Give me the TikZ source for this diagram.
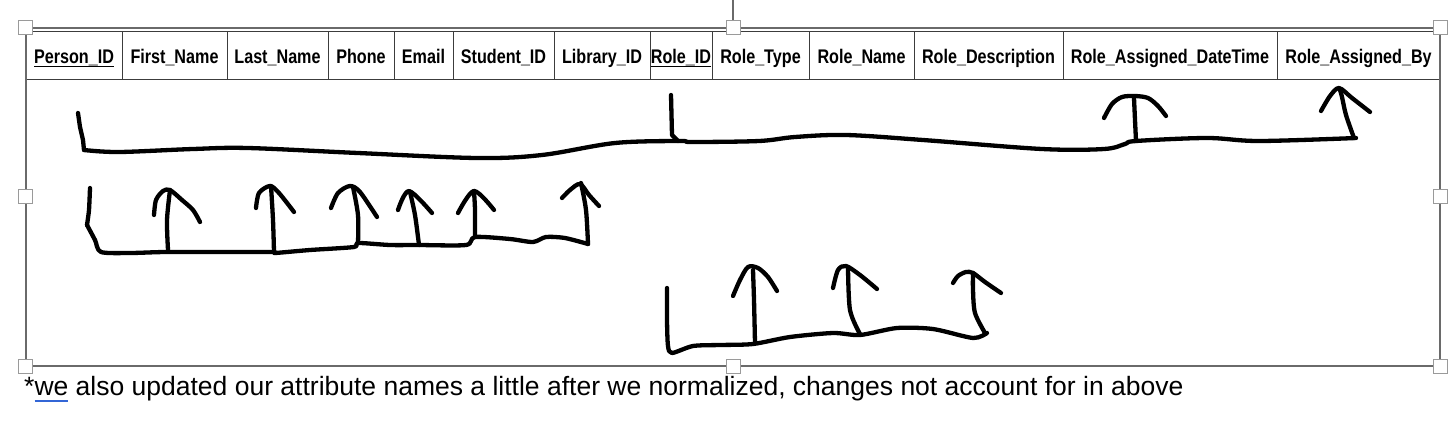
\documentclass[tikz,border=0pt]{standalone}
\usepackage{fontspec}
\setmainfont{Liberation Sans}
\newfontfamily\hdrfont{Liberation Sans}[FakeStretch=0.82]
\definecolor{framegray}{HTML}{6A6A6A}
\definecolor{handlegray}{HTML}{9A9A9A}
\definecolor{tablegray}{HTML}{3C3C3C}
\definecolor{spellblue}{HTML}{3366D6}
\newcommand\ulpk[1]{\setbox0\hbox{#1}\rlap{\rule[-3.6pt]{\wd0}{1.6pt}}\box0\relax}
\newcommand\ulbl[1]{\setbox0\hbox{#1}\rlap{\textcolor{spellblue}{\rule[-6.5pt]{\wd0}{2pt}}}\box0\relax}
\newcommand\hcellnode[4]{\node[hcell, minimum width={(#2-#1)*1pt}] (#4) at ({(#1+#2)/2},55) {#3};}
\begin{document}
\begin{tikzpicture}[x=1pt,y=-1pt,
  hcell/.style={draw=tablegray, line width=0.9pt, minimum height=48pt, inner sep=0pt,
    text height=17pt, text depth=0pt, font={\hdrfont\bfseries\fontsize{19.7pt}{20pt}\selectfont}},
  handle/.style={draw=handlegray, fill=white, line width=0.8pt, minimum size=14pt, inner sep=0pt},
  ink/.style={line width=4.3pt, line cap=round, line join=round, black},
  framestyle/.style={draw=framegray, line width=1.3pt}]
\useasboundingbox (0,0) rectangle (1448,426);
\fill[white] (0,0) rectangle (1448,426);
% header row
\hcellnode{26}{122}{\ulpk{Person\_ID}}{c1}
\hcellnode{122}{227}{First\_Name}{c2}
\hcellnode{227}{328}{Last\_Name}{c3}
\hcellnode{328}{394}{Phone}{c4}
\hcellnode{394}{453}{Email}{c5}
\hcellnode{453}{554}{Student\_ID}{c6}
\hcellnode{554}{650}{Library\_ID}{c7}
\hcellnode{650}{712}{\ulpk{Role\_ID}}{c8}
\hcellnode{712}{809}{Role\_Type}{c9}
\hcellnode{809}{914}{Role\_Name}{c10}
\hcellnode{914}{1063}{Role\_Description}{c11}
\hcellnode{1063}{1277}{Role\_Assigned\_DateTime}{c12}
\hcellnode{1277}{1440}{Role\_Assigned\_By}{c13}
% frame
\draw[framestyle] (26,28) rectangle (1440,366);
% top dependency line
\draw[ink] (78,113) -- (80,127) -- (83,140) -- (84,150);
\draw[ink] plot[smooth, tension=0.55] coordinates {(84,150) (119,152) (193,149) (248,148) (358,153) (477,158) (542,155) (615,143) (680,141) (692,142) (759,141) (795,137) (846,135) (923,140) (1042,149) (1104,149) (1125,144) (1136,141) (1207,138) (1259,141) (1356,138)};
\draw[ink] (671,95) -- (672,135) -- (678,141);
% top arrows
\draw[ink] plot[smooth] coordinates {(1136,141) (1135,120) (1134,98)};
\draw[ink] plot[smooth] coordinates {(1104,118) (1112,104) (1122,97) (1135,96) (1148,98) (1158,106) (1166,116)};
\draw[ink] plot[smooth] coordinates {(1354,138) (1346,115) (1342,97) (1340,90)};
\draw[ink] plot[smooth] coordinates {(1321,111) (1330,96) (1339,88) (1352,98) (1370,112)};
% middle group
\draw[ink] plot[smooth, tension=0.4] coordinates {(90,188) (89,210) (87,225)};
\draw[ink] plot[smooth, tension=0.45] coordinates {(87,225) (95,240) (101,252) (130,253) (165,252) (220,252) (273,252) (275,253) (310,250) (354,247) (358,243) (390,245) (418,245) (466,245) (475,237) (510,239) (533,242) (546,237) (565,238) (588,244)};
\draw[ink] plot[smooth] coordinates {(168,250) (167,220) (170,190)};
\draw[ink] plot[smooth] coordinates {(154,215) (156,200) (163,191) (170,190) (182,200) (193,210) (200,222)};
\draw[ink] plot[smooth] coordinates {(274,252) (273,220) (271,186)};
\draw[ink] plot[smooth] coordinates {(256,208) (259,193) (270,186) (279,193) (294,212)};
\draw[ink] plot[smooth] coordinates {(358,243) (358,215) (353,187)};
\draw[ink] plot[smooth] coordinates {(331,208) (338,193) (350,186) (360,192) (377,217)};
\draw[ink] plot[smooth] coordinates {(419,245) (415,215) (410,192)};
\draw[ink] plot[smooth] coordinates {(398,210) (409,191) (432,213)};
\draw[ink] plot[smooth] coordinates {(475,237) (475,210) (474,191)};
\draw[ink] plot[smooth] coordinates {(458,213) (474,191) (494,210)};
\draw[ink] plot[smooth] coordinates {(588,244) (586,210) (581,183)};
\draw[ink] plot[smooth] coordinates {(562,198) (570,190) (580,184) (589,195) (599,206)};
% bottom group
\draw[ink] plot[smooth, tension=0.45] coordinates {(667,288) (667,320) (668,346) (672,353) (693,346) (720,345) (753,344) (790,337) (833,333) (860,335) (897,328) (933,329) (973,338) (987,333)};
\draw[ink] plot[smooth] coordinates {(755,343) (754,300) (753,270)};
\draw[ink] plot[smooth] coordinates {(733,296) (740,280) (748,267) (758,268) (768,277) (777,291)};
\draw[ink] plot[smooth] coordinates {(860,334) (850,310) (848,267)};
\draw[ink] plot[smooth] coordinates {(833,288) (838,270) (846,266) (860,275) (877,289)};
\draw[ink] plot[smooth] coordinates {(985,333) (975,313) (973,290) (973,273)};
\draw[ink] plot[smooth] coordinates {(953,283) (958,276) (966,272) (973,273) (985,282) (1001,293)};
% handles
\node[handle] (h1) at (25,27) {};
\node[handle] (h2) at (733,27) {};
\node[handle] (h3) at (1440,27) {};
\node[handle] (h4) at (25,196) {};
\node[handle] (h5) at (1440,196) {};
\node[handle] (h6) at (25,366) {};
\node[handle] (h7) at (733,366) {};
\node[handle] (h8) at (1440,366) {};
\coordinate (rot) at (733,0);
\draw[framestyle] (rot) -- (h2.north);
% footnote
\node[anchor=base west, inner sep=0pt, font=\fontsize{26.5pt}{30pt}\selectfont] (note) at (24,395)
  {*\ulbl{we} also updated our attribute names a little after we normalized, changes not account for in above};
\end{tikzpicture}
\end{document}
